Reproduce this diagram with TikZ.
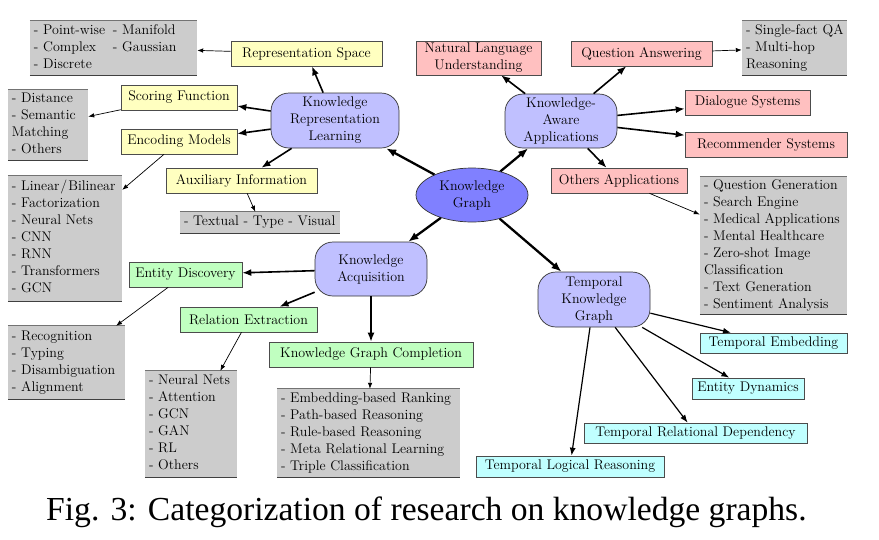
\documentclass[tikz,border=0pt]{standalone}
\usepackage{fontspec}
\newfontfamily\capfont{Liberation Serif}
\usetikzlibrary{arrows.meta,shapes.geometric}
\definecolor{ylw}{HTML}{FFFFC0}
\definecolor{pnk}{HTML}{FFC0C0}
\definecolor{grn}{HTML}{C0FFC0}
\definecolor{cyn}{HTML}{C0FFFF}
\definecolor{lav}{HTML}{C0C0FF}
\definecolor{kgblue}{HTML}{8080FF}
\definecolor{gbox}{HTML}{CCCCCC}
\newcommand{\dfont}{\fontsize{14}{17}\selectfont}
\newcommand{\glist}[1]{\begin{tabular}{@{}l@{}}#1\end{tabular}}
\begin{document}
\begin{tikzpicture}[x=1pt,y=-1pt,
  every node/.style={font=\dfont},
  catbox/.style={draw=black!70, line width=0.6pt, inner sep=2pt, align=center, minimum height=25pt},
  yl/.style={catbox, fill=ylw},
  pk/.style={catbox, fill=pnk},
  gn/.style={catbox, fill=grn},
  cy/.style={catbox, fill=cyn, minimum height=20pt},
  rnd/.style={draw=black!80, line width=0.7pt, fill=lav, rounded corners=18pt, align=center, inner sep=2pt},
  gb/.style={fill=gbox, inner xsep=4pt, inner ysep=1pt, align=left,
    append after command={(\tikzlastnode.north west) edge[draw=black!55, line width=0.8pt] (\tikzlastnode.north east)
      (\tikzlastnode.south west) edge[draw=black!75, line width=1.1pt] (\tikzlastnode.south east)}},
  karr/.style={-{Latex[length=10pt,width=8pt]}, line width=2.3pt},
  marr/.style={-{Latex[length=9pt,width=7pt]}, line width=1.6pt},
  tkarr/.style={-{Latex[length=8pt,width=6pt]}, line width=1.2pt},
  tarr/.style={-{Latex[length=6pt,width=4.5pt]}, line width=0.7pt}
  ]
\useasboundingbox (0,0) rectangle (879,539);
% central
\node[ellipse, draw=black!80, line width=0.7pt, fill=kgblue, minimum width=112pt, minimum height=54pt, inner sep=0pt, align=center] (kg) at (472,195) {Knowledge\\Graph};
% main rounded
\node[rnd, minimum width=128pt, minimum height=55pt] (krl) at (335,120.5) {Knowledge\\Representation\\Learning};
\node[rnd, minimum width=112pt, minimum height=54pt] (kaa) at (561,121) {Knowledge-\\Aware\\Applications};
\node[rnd, minimum width=112pt, minimum height=54pt] (kacq) at (371,269) {Knowledge\\Acquisition};
\node[rnd, minimum width=112pt, minimum height=55pt] (tkg) at (594,299.5) {Temporal\\Knowledge\\Graph};
% yellow
\node[yl, minimum width=151pt] (rs) at (306.5,53.5) {Representation Space};
\node[yl, minimum width=116pt] (sf) at (179,97.5) {Scoring Function};
\node[yl, minimum width=116pt] (em) at (179,141.5) {Encoding Models};
\node[yl, minimum width=151pt] (ai) at (241.5,180.5) {Auxiliary Information};
% pink
\node[pk, minimum width=125pt, minimum height=34pt] (nlu) at (478.5,58) {Natural Language\\Understanding};
\node[pk, minimum width=141pt] (qa) at (641.5,53.5) {Question Answering};
\node[pk, minimum width=125pt] (ds) at (747.5,102.5) {Dialogue Systems};
\node[pk, minimum width=162pt] (rsys) at (766,144.5) {Recommender Systems};
\node[pk, minimum width=136pt] (oa) at (619,180.5) {Others Applications};
% green
\node[gn, minimum width=113pt] (ed) at (185.5,274.5) {Entity Discovery};
\node[gn, minimum width=137pt] (rex) at (248.5,319.5) {Relation Extraction};
\node[gn, minimum width=204pt] (kgc) at (371,354.5) {Knowledge Graph Completion};
% cyan
\node[cy, minimum width=147pt] (te) at (773.5,343) {Temporal Embedding};
\node[cy, minimum width=112pt, minimum height=21pt] (edyn) at (748,388.5) {Entity Dynamics};
\node[cy, minimum width=223pt] (trd) at (695.5,433) {Temporal Relational Dependency};
\node[cy, minimum width=188pt, minimum height=21pt] (tlr) at (570,466.5) {Temporal Logical Reasoning};
% gray lists
\node[gb, text width=159pt, minimum height=54pt] (g1) at (113.5,48) {\begin{tabular}{@{}p{79pt}@{}l@{}}- Point-wise & - Manifold\\ - Complex & - Gaussian\\ - Discrete & \end{tabular}};
\node[gb, text width=72pt, minimum height=70pt] (g2) at (48,125) {\glist{- Distance\\ - Semantic\\ Matching\\ - Others}};
\node[gb, text width=106pt, minimum height=125pt] (g3) at (65,238.5) {\glist{- Linear\kern1pt/\kern1pt Bilinear\\ - Factorization\\ - Neural Nets\\ - CNN\\ - RNN\\ - Transformers\\ - GCN}};
\node[gb, text width=152pt, minimum height=21pt] (g4) at (260,222.5) {\glist{- Textual - Type - Visual}};
\node[gb, text width=97pt, minimum height=54pt] (g5) at (794.5,48) {\glist{- Single-fact QA\\ - Multi-hop\\ Reasoning}};
\node[gb, text width=139pt, minimum height=137pt] (g6) at (773.5,245.5) {\glist{- Question Generation\\ - Search Engine\\ - Medical Applications\\ - Mental Healthcare\\ - Zero-shot Image\\ Classification\\ - Text Generation\\ - Sentiment Analysis}};
\node[gb, text width=109pt, minimum height=73pt] (g7) at (66.5,362.5) {\glist{- Recognition\\ - Typing\\ - Disambiguation\\ - Alignment}};
\node[gb, text width=84pt, minimum height=106pt] (g8) at (191,424) {\glist{- Neural Nets\\ - Attention\\ - GCN\\ - GAN\\ - RL\\ - Others}};
\node[gb, text width=175pt, minimum height=88pt] (g9) at (368.5,433) {\glist{- Embedding-based Ranking\\ - Path-based Reasoning\\ - Rule-based Reasoning\\ - Meta Relational Learning\\ - Triple Classification}};
% caption
\node[font=\capfont\fontsize{33.6}{40}\selectfont, anchor=base west, inner sep=0pt] (cap) at (46,520) {Fig. 3: Categorization of research on knowledge graphs.};
% arrows from KG
\draw[karr] (kg) -- (krl);
\draw[karr] (kg) -- (kaa);
\draw[karr] (kg) -- (kacq);
\draw[karr] (kg) -- (tkg);
% KRL
\draw[marr] (krl) -- (rs);
\draw[marr] (krl) -- (sf);
\draw[marr] (krl) -- (em);
\draw[marr] (krl) -- (ai);
% KAA
\draw[marr] (kaa) -- (nlu);
\draw[marr] (kaa) -- (qa);
\draw[marr] (kaa) -- (ds);
\draw[marr] (kaa) -- (rsys);
\draw[marr] (kaa) -- (oa);
% KAcq
\draw[marr] (kacq) -- (ed);
\draw[marr] (kacq) -- (rex);
\draw[marr] (kacq) -- (kgc);
% TKG
\draw[tkarr] (tkg) -- (te);
\draw[tkarr] (tkg) -- (edyn);
\draw[tkarr] (tkg) -- (trd);
\draw[tkarr] (tkg) -- (tlr);
% thin to lists
\draw[tarr] (rs) -- (g1);
\draw[tarr] (sf) -- (g2);
\draw[tarr] (em) -- (g3);
\draw[tarr] (ai) -- (g4);
\draw[tarr] (qa) -- (g5);
\draw[tarr] (oa) -- (g6);
\draw[tarr] (ed) -- (g7);
\draw[tarr] (rex) -- (g8);
\draw[tarr] (kgc) -- (g9);
\end{tikzpicture}
\end{document}
